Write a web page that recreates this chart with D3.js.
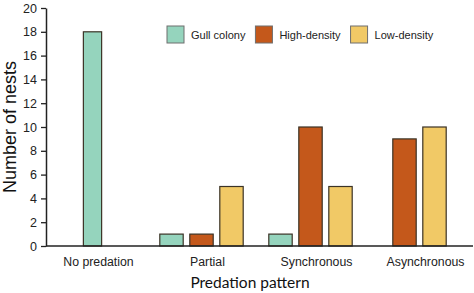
<!DOCTYPE html>
<html>
<head>
<meta charset="utf-8">
<script src="https://cdn.jsdelivr.net/npm/d3@7"></script>
<style>
  body { margin: 0; background: #fff; }
  svg { display: block; font-family: Arial, "Liberation Sans", sans-serif; }
</style>
</head>
<body>
<svg id="chart"></svg>
<script>
const W = 474, H = 293;

const categories = ['No predation', 'Partial', 'Synchronous', 'Asynchronous'];
const seriesNames = ['Gull colony', 'High-density', 'Low-density'];
const gullColony  = [18, 1, 1, 0];
const highDensity = [0, 1, 10, 9];
const lowDensity  = [0, 5, 5, 10];
const yTicks = [0, 2, 4, 6, 8, 10, 12, 14, 16, 18, 20];

const COLORS = ['#95d4bd', '#c4581b', '#f1c966'];

const svg = d3.select('#chart')
    .attr('width', W)
    .attr('height', H);

const margin = { left: 46, top: 8, bottom: 47 };
const y = d3.scaleLinear().domain([0, 20]).range([H - margin.bottom, margin.top]);
const x = d3.scaleBand().domain(categories).range([38, 474]);

const values = [gullColony, highDensity, lowDensity];
const BAR_STEP = 30;
const PAD = 0.22;

// ── Bars ──
categories.forEach((cat, ci) => {
    const shown = seriesNames.filter((s, si) => values[si][ci] > 0);
    const cx = x(cat) + x.bandwidth() / 2;
    const w = BAR_STEP * (shown.length - PAD);
    const inner = d3.scaleBand().domain(shown)
        .range([cx - w / 2, cx + w / 2])
        .paddingInner(PAD);

    svg.append('g')
        .selectAll('rect')
        .data(shown)
        .join('rect')
        .attr('x', s => inner(s))
        .attr('width', inner.bandwidth())
        .attr('y', s => y(values[seriesNames.indexOf(s)][ci]))
        .attr('height', s => y(0) - y(values[seriesNames.indexOf(s)][ci]))
        .attr('fill', s => COLORS[seriesNames.indexOf(s)])
        .attr('stroke', '#3b3326')
        .attr('stroke-width', 1.2);
});

// ── Axes ──
const yAxis = svg.append('g')
    .attr('transform', `translate(${margin.left},0)`)
    .call(d3.axisLeft(y).tickValues(yTicks).tickSize(5).tickSizeOuter(0).tickPadding(4));
yAxis.select('.domain').attr('stroke', '#222').attr('stroke-width', 1.5);
yAxis.selectAll('.tick line').attr('stroke', '#222').attr('stroke-width', 1.3);
yAxis.selectAll('text').attr('font-size', 12.5).attr('fill', '#222')
    .attr('font-family', 'Arial, "Liberation Sans", sans-serif');

svg.append('line')
    .attr('x1', margin.left).attr('x2', W - 1)
    .attr('y1', y(0)).attr('y2', y(0))
    .attr('stroke', '#222').attr('stroke-width', 1.5);

svg.append('g')
    .selectAll('text')
    .data(categories)
    .join('text')
    .attr('x', d => x(d) + x.bandwidth() / 2 + 6)
    .attr('y', 266)
    .attr('text-anchor', 'middle')
    .attr('font-size', 12.3)
    .attr('fill', '#222')
    .text(d => d);

// axis titles
svg.append('text')
    .attr('transform', `translate(16,${(y(0) + y(20)) / 2}) rotate(-90)`)
    .attr('text-anchor', 'middle')
    .attr('font-size', 18)
    .attr('fill', '#111')
    .text('Number of nests');

svg.append('text')
    .attr('x', 250)
    .attr('y', 288)
    .attr('text-anchor', 'middle')
    .attr('font-family', 'Lato, "Open Sans", sans-serif')
    .attr('font-size', 15.5)
    .attr('fill', '#111')
    .text('Predation pattern');

// ── Legend ──
const legend = svg.append('g').attr('transform', 'translate(167,26)');
let lx = 0;
seriesNames.forEach((name, i) => {
    const g = legend.append('g').attr('transform', `translate(${lx},0)`);
    g.append('rect')
        .attr('width', 17).attr('height', 17)
        .attr('fill', COLORS[i])
        .attr('stroke', '#6f6f6f')
        .attr('stroke-width', 1);
    const t = g.append('text')
        .attr('x', 24).attr('y', 13)
        .attr('font-size', 11)
        .attr('fill', '#222')
        .text(name);
    lx += 24 + t.node().getComputedTextLength() + 10;
});
</script>
</body>
</html>
